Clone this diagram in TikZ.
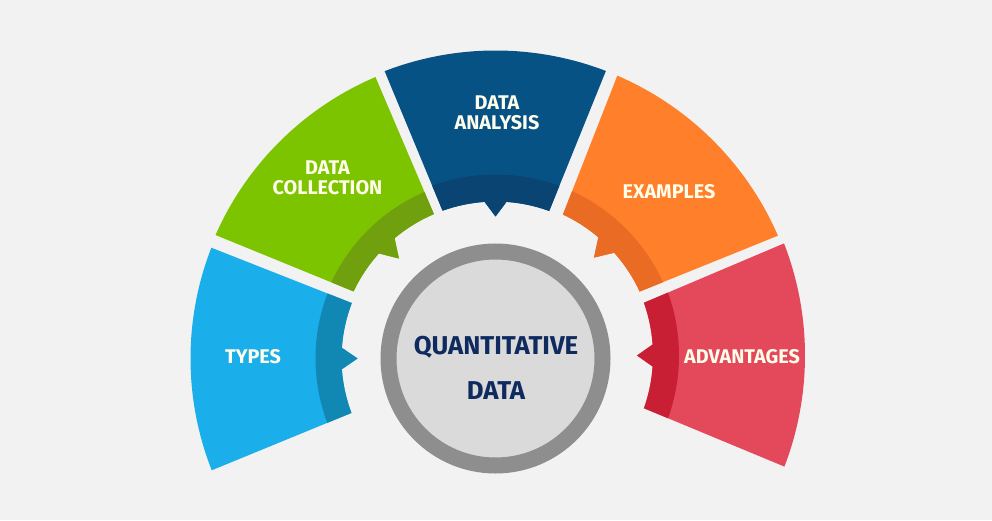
\documentclass[tikz,border=0pt]{standalone}
\usepackage{fontspec}
\setmainfont{Fira Sans}
\definecolor{paper}{HTML}{F2F2F2}
\definecolor{typesblue}{HTML}{1AAEEB}
\definecolor{typesdark}{HTML}{1188B4}
\definecolor{collectgreen}{HTML}{7DC400}
\definecolor{collectdark}{HTML}{70A00E}
\definecolor{analysisblue}{HTML}{065285}
\definecolor{analysisdark}{HTML}{0A4472}
\definecolor{examplesorange}{HTML}{FF7F2A}
\definecolor{examplesdark}{HTML}{E96B24}
\definecolor{advred}{HTML}{E4495B}
\definecolor{advdark}{HTML}{C91F35}
\definecolor{ringgray}{HTML}{8E8E8E}
\definecolor{coregray}{HTML}{DADADA}
\definecolor{corenavy}{HTML}{0F2A5F}
\tikzset{
  seglabel/.style={text=white!92!yellow, font=\fontsize{19.8}{20.5}\selectfont\bfseries, align=center, inner sep=0pt},
  corering/.style={circle, draw=ringgray, line width=16pt, fill=coregray, minimum size=214pt, inner sep=0pt},
  corelabel/.style={inner sep=0pt, text=corenavy, font=\fontsize{25.8}{45}\selectfont\bfseries, align=center}
}
\begin{document}
\begin{tikzpicture}[x=1pt,y=1pt]
\useasboundingbox (0,0) rectangle (992,520);
\fill[paper] (0,0) rectangle (992,520);

% centre x/y, outer angles, inner angles, radii, tip angle, colours
\foreach \cx/\cy/\aa/\ab/\ba/\bb/\rout/\rin/\rband/\rtip/\tipang/\col/\dk in {
  495.5/161.5/158.7/201.5/158.9/200.7/305/154/180/138/180/typesblue/typesdark,
  495.5/161.5/113.1/156.2/113.1/154.7/306/157/181/139/134/collectgreen/collectdark,
  495.5/161.5/69/111.1/70/109.7/308/157/184/142/90/analysisblue/analysisdark,
  495.5/161.5/23.5/66.7/24.9/64.9/308/159/184/141/45.7/examplesorange/examplesdark,
  495/164.5/-21/21.2/-19.5/19.5/310/158/184/142/0/advred/advdark} {
  \begin{scope}[shift={(\cx,\cy)}]
    \begin{scope}
      \clip (\aa:\rout) arc[start angle=\aa, end angle=\ab, radius=\rout] -- (\bb:\rin)
        arc[start angle=\bb, end angle={\tipang+4}, radius=\rin] -- (\tipang:\rtip)
        -- ({\tipang-4}:\rin) arc[start angle={\tipang-4}, end angle=\ba, radius=\rin] -- cycle;
      \fill[\col] (-320,-320) rectangle (320,320);
      \fill[\dk] (0,0) circle (\rband);
    \end{scope}
  \end{scope}
}

\node[corering] (core) at (495.5,161.5) {};
\node[corelabel] (corename) at (496,152.5) {QUANTITATIVE\\DATA};

\node[seglabel] (types) at (253,163) {TYPES};
\node[seglabel] (collection) at (327.5,342) {DATA\\COLLECTION};
\node[seglabel] (analysis) at (497,407) {DATA\\ANALYSIS};
\node[seglabel] (examples) at (669,328) {EXAMPLES};
\node[seglabel] (advantages) at (742,163) {ADVANTAGES};

\end{tikzpicture}
\end{document}
